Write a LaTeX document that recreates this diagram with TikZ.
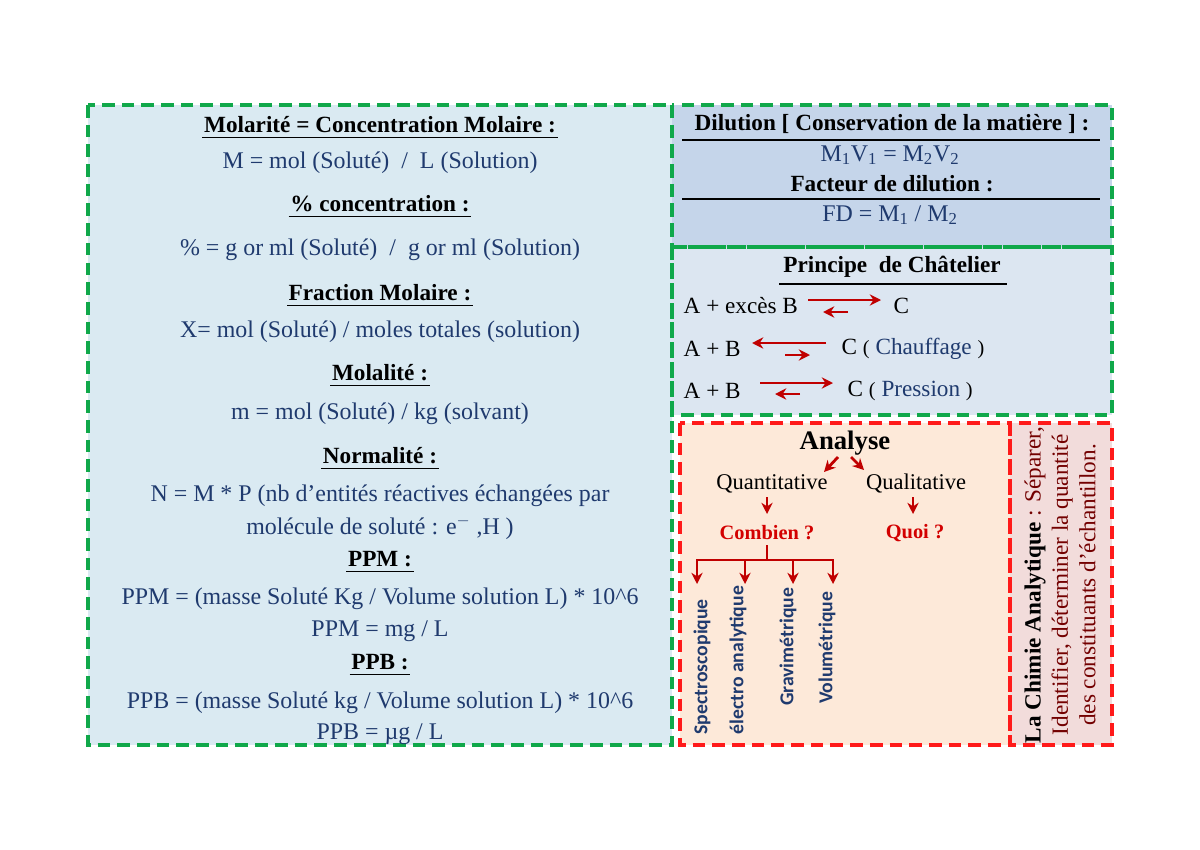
\documentclass[tikz,border=0pt]{standalone}
\usepackage{fontspec}
\usetikzlibrary{arrows.meta}
\setmainfont{Liberation Serif}
\newfontfamily\carl{Carlito}
\begin{document}
\begin{tikzpicture}[x=0.025cm,y=-0.025cm,
 box/.style={dash pattern=on 9pt off 5pt,line width=2.2pt},
 head/.style={font=\fontsize{16.5}{18}\selectfont\bfseries,text=black,inner sep=1pt},
 frm/.style={font=\fontsize{17}{19}\selectfont,text=navy,inner sep=1pt},
 blk/.style={font=\fontsize{16.5}{18}\selectfont,text=black,inner sep=1pt},
 rar/.style={-{Stealth[length=8pt,width=8pt]},line width=2pt,draw=dred},
 meth/.style={font=\carl\fontsize{14}{16}\selectfont\bfseries,text=navy,rotate=90,inner sep=1pt}]
\definecolor{navy}{HTML}{1F3A6E}
\definecolor{dred}{HTML}{C00000}
\definecolor{gdash}{HTML}{10A84A}
\definecolor{rdash}{HTML}{FF1A1A}
\useasboundingbox (0,0) rectangle (1200,849);
\fill[white] (0,0) rectangle (1200,849);
% boxes
\fill[fill={rgb,255:red,218;green,234;blue,242}] (88,105) rectangle (672,745);
\fill[fill={rgb,255:red,197;green,213;blue,234}] (672,105) rectangle (1112,247);
\fill[fill={rgb,255:red,220;green,230;blue,241}] (672,247) rectangle (1112,415);
\fill[fill={rgb,255:red,253;green,233;blue,217}] (680,423) rectangle (1010,745);
\fill[fill={rgb,255:red,242;green,220;blue,219}] (1010,423) rectangle (1112,745);
\draw[box,gdash] (88,105) rectangle (672,745);
\draw[box,gdash] (672,105) rectangle (1112,247);
\draw[box,gdash] (672,247) rectangle (1112,415);
\draw[box,rdash] (680,423) rectangle (1010,745);
\draw[box,rdash] (1010,423) rectangle (1112,745);
% left
\node[head] (h1) at (380,125) {Molarité = Concentration Molaire :};
\draw[line width=1pt] ([yshift=-2pt]h1.south west) -- ([yshift=-2pt]h1.south east);
\node[frm] (f1) at (380,163) {M = mol (Soluté) ~/~ L (Solution)};
\node[head] (h2) at (380,204) {\% concentration :};
\draw[line width=1pt] ([yshift=-2pt]h2.south west) -- ([yshift=-2pt]h2.south east);
\node[frm] (f2) at (380,250) {\% = g or ml (Soluté) ~/~ g or ml (Solution)};
\node[head] (h3) at (380,293) {Fraction Molaire :};
\draw[line width=1pt] ([yshift=-2pt]h3.south west) -- ([yshift=-2pt]h3.south east);
\node[frm] (f3) at (380,332) {X= mol (Soluté) / moles totales (solution)};
\node[head] (h4) at (380,373) {Molalité :};
\draw[line width=1pt] ([yshift=-2pt]h4.south west) -- ([yshift=-2pt]h4.south east);
\node[frm] (f4) at (380,414) {m = mol (Soluté) / kg (solvant)};
\node[head] (h5) at (380,456) {Normalité :};
\draw[line width=1pt] ([yshift=-2pt]h5.south west) -- ([yshift=-2pt]h5.south east);
\node[frm] (f5) at (380,496) {N = M * P (nb d’entités réactives échangées par};
\node[frm] (f6) at (380,528) {molécule de soluté : e\textsuperscript{$-$} ,H )};
\node[head] (h6) at (380,559) {PPM :};
\draw[line width=1pt] ([yshift=-2pt]h6.south west) -- ([yshift=-2pt]h6.south east);
\node[frm] (f7) at (380,599) {PPM = (masse Soluté Kg / Volume solution L) * 10\^{}6};
\node[frm] (f8) at (380,631) {PPM = mg / L};
\node[head] (h7) at (380,662) {PPB :};
\draw[line width=1pt] ([yshift=-2pt]h7.south west) -- ([yshift=-2pt]h7.south east);
\node[frm] (f9) at (380,703) {PPB = (masse Soluté kg / Volume solution L) * 10\^{}6};
\node[frm] (f10) at (380,734) {PPB = µg / L};
% dilution
\node[head] (d1) at (892,124) {Dilution [ Conservation de la matière ] :};
\draw[line width=1pt] (682,140) -- (1100,140);
\node[frm] (d2) at (890,155) {M\textsubscript{1}V\textsubscript{1} = M\textsubscript{2}V\textsubscript{2}};
\node[head] (d3) at (892,184) {Facteur de dilution :};
\draw[line width=1pt] (682,199) -- (1100,199);
\node[frm] (d4) at (890,215) {FD = M\textsubscript{1} / M\textsubscript{2}};
% chatelier
\node[head] (c0) at (892,267) {Principe ~de Châtelier};
\draw[line width=1pt] (779,284) -- (1007,284);
\node[blk,anchor=west] (c1) at (682,306) {A + excès B};
\node[blk,anchor=west] (c1c) at (892,306) {C};
\node[blk,anchor=west] (c2) at (682,349) {A + B};
\node[blk,anchor=west] (c2c) at (840,349) {C {\Large(} \textcolor{navy}{Chauffage} {\Large)}};
\node[blk,anchor=west] (c3) at (682,391) {A + B};
\node[blk,anchor=west] (c3c) at (846,391) {C {\Large(} \textcolor{navy}{Pression} {\Large)}};
\coordinate (a1s) at (808,300); \coordinate (a1e) at (881,300);
\coordinate (b1s) at (848,312); \coordinate (b1e) at (823,312);
\draw[rar] (a1s) -- (a1e); \draw[rar] (b1s) -- (b1e);
\coordinate (a2s) at (826,343); \coordinate (a2e) at (752,343);
\coordinate (b2s) at (785,355); \coordinate (b2e) at (810,355);
\draw[rar] (a2s) -- (a2e); \draw[rar] (b2s) -- (b2e);
\coordinate (a3s) at (760,383); \coordinate (a3e) at (833,383);
\coordinate (b3s) at (800,394); \coordinate (b3e) at (775,394);
\draw[rar] (a3s) -- (a3e); \draw[rar] (b3s) -- (b3e);
% analyse
\node[font=\fontsize{19}{21}\selectfont\bfseries,inner sep=1pt] (an) at (845,443) {Analyse};
\node[blk,font=\fontsize{16}{18}\selectfont] (qn) at (772,484) {Quantitative};
\node[blk,font=\fontsize{16}{18}\selectfont] (ql) at (916,484) {Qualitative};
\draw[rar] (838,457) -- (824,472);
\draw[rar] (851,457) -- (864,470);
\node[font=\fontsize{14.5}{16}\selectfont\bfseries,text=dred!70!red] (cb) at (767,533) {Combien ?};
\node[font=\fontsize{14.5}{16}\selectfont\bfseries,text=dred!70!red] (qu) at (915,533) {Quoi ?};
\draw[rar] (767,497) -- (767,514);
\draw[rar] (913,497) -- (913,514);
\draw[line width=2pt,dred] (767,545) -- (767,560);
\draw[line width=2pt,dred] (697,560) -- (833,560);
\foreach \x in {697,745,793,833} \draw[rar] (\x,559) -- (\x,584);
\node[meth,anchor=west] (m1) at (702,736) {Spectroscopique};
\node[meth,anchor=west] (m2) at (738,736) {électro analytique};
\node[meth,anchor=east] (m3) at (788,586) {Gravimétrique};
\node[meth,anchor=east] (m4) at (827,590) {Volumétrique};
% chimie
\node[rotate=90,align=center,text=dred!60!black,font=\fontsize{16.5}{19.5}\selectfont,inner sep=0pt] (ch) at (1060,585)
 {\textcolor{black}{\bfseries La Chimie Analytique} : Séparer,\\ Identifier, déterminer la quantité\\ des constituants d’échantillon.};
\end{tikzpicture}
\end{document}
